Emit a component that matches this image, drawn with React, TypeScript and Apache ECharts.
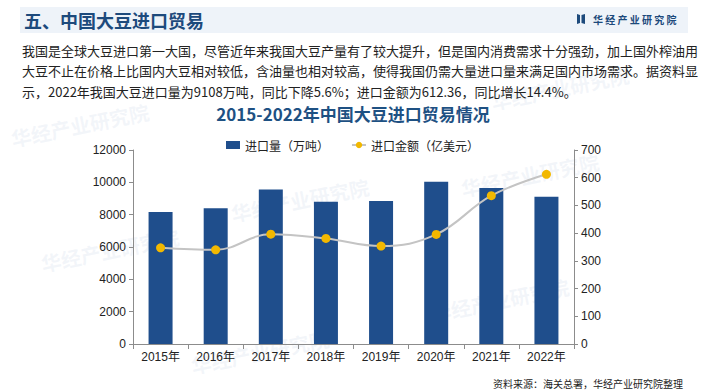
import React, { useEffect, useRef } from "react";
import * as echarts from "echarts";

const categories = ["2015年", "2016年", "2017年", "2018年", "2019年", "2020年", "2021年", "2022年"];
const importVolume = [8169, 8391, 9553, 8803, 8851, 10033, 9652, 9108];
const importValue = [347.2, 339.8, 396.1, 380.9, 353.4, 395.3, 535.3, 612.36];
const leftTicks = { min: 0, max: 12000, interval: 2000 };
const rightTicks = { min: 0, max: 700, interval: 100 };

const headerTitle = "五、中国大豆进口贸易";
const brand = "华经产业研究院";
const paragraph = [
  "我国是全球大豆进口第一大国，尽管近年来我国大豆产量有了较大提升，但是国内消费需求十分强劲，加上国外榨油用",
  "大豆不止在价格上比国内大豆相对较低，含油量也相对较高，使得我国仍需大量进口量来满足国内市场需求。据资料显",
  "示，2022年我国大豆进口量为9108万吨，同比下降5.6%；进口金额为612.36，同比增长14.4%。",
];
const chartTitle = "2015-2022年中国大豆进口贸易情况";
const seriesNames = ["进口量（万吨）", "进口金额（亿美元）"];
const source = "资料来源：海关总署，华经产业研究院整理";

const CJK = "'Noto Sans CJK SC', 'Noto Sans', sans-serif";
const NUM = "'Liberation Sans', 'Noto Sans CJK SC', sans-serif";

export default function App() {
  const ref = useRef<HTMLDivElement>(null);
  useEffect(() => {
    if (!ref.current) return;
    const chart = echarts.init(ref.current, null, { renderer: "svg" });
    const watermarks = [
      { x: 560, y: 88 },
      { x: 110, y: 250 },
      { x: 300, y: 200 },
      { x: 530, y: 175 },
      { x: 500, y: 300 },
      { x: 80, y: 125 },
      { x: 260, y: 352 },
    ].map((p) => ({
      type: "text",
      x: p.x,
      y: p.y,
      rotation: 0.2,
      silent: true,
      z: -1,
      style: {
        text: brand,
        fill: "rgba(200,212,230,0.22)",
        font: `bold 20px ${CJK}`,
        align: "center",
        verticalAlign: "middle",
      },
    }));
    const plain = (v: number) => String(v);
    const option: any = {
      animation: false,
      backgroundColor: "#ffffff",
      graphic: [
        ...watermarks,
        {
          type: "rect",
          shape: { x: 20, y: 7, width: 668, height: 26 },
          style: { fill: "#eef3f9" },
          z: 0,
        },
        {
          type: "text",
          x: 24,
          y: 20,
          style: {
            text: headerTitle,
            fill: "#1d4a7c",
            font: `bold 18px ${CJK}`,
            verticalAlign: "middle",
          },
        },
        {
          type: "polygon",
          shape: { points: [[577, 14], [580, 15], [580, 23], [577, 24]] },
          style: { fill: "#1d4a7c" },
        },
        {
          type: "polygon",
          shape: { points: [[581.5, 15], [585, 14], [585, 24], [581.5, 23]] },
          style: { fill: "#1d4a7c" },
        },
        {
          type: "text",
          x: 593,
          y: 19,
          style: {
            text: brand.split("").join(" "),
            fill: "#1d4a7c",
            font: `bold 10px ${CJK}`,
            verticalAlign: "middle",
          },
        },
        ...paragraph.map((line, i) => ({
          type: "text",
          x: 22,
          y: 50 + i * 20.5,
          style: {
            text: line,
            fill: "#222222",
            font: `13px ${CJK}`,
            verticalAlign: "middle",
          },
        })),
        {
          type: "text",
          x: 353,
          y: 113,
          style: {
            text: chartTitle,
            fill: "#1e5183",
            font: `bold 17px ${CJK}`,
            align: "center",
            verticalAlign: "middle",
          },
        },
        {
          type: "text",
          x: 683,
          y: 383,
          style: {
            text: source,
            fill: "#222222",
            font: `10px ${CJK}`,
            align: "right",
            verticalAlign: "middle",
          },
        },
      ],
      legend: {
        top: 134,
        left: "center",
        itemGap: 22,
        itemWidth: 14,
        itemHeight: 8,
        textStyle: { fontFamily: CJK, fontSize: 12, color: "#222" },
        data: [
          { name: seriesNames[0], icon: "rect" },
          { name: seriesNames[1] },
        ],
      },
      grid: { left: 133, right: 131, top: 150, bottom: 48, containLabel: false },
      xAxis: {
        type: "category",
        data: categories,
        axisLine: { lineStyle: { color: "#8c8c8c" } },
        axisTick: { show: true, alignWithLabel: false, lineStyle: { color: "#8c8c8c" } },
        axisLabel: { fontFamily: NUM, fontSize: 12, color: "#222", margin: 7 },
      },
      yAxis: [
        {
          type: "value",
          ...leftTicks,
          position: "left",
          axisLine: { show: true, lineStyle: { color: "#8c8c8c" } },
          axisTick: { show: true, length: 4, lineStyle: { color: "#8c8c8c" } },
          splitLine: { show: false },
          axisLabel: { fontFamily: NUM, fontSize: 12, color: "#222", margin: 7, formatter: plain },
        },
        {
          type: "value",
          ...rightTicks,
          position: "right",
          axisLine: { show: true, lineStyle: { color: "#8c8c8c" } },
          axisTick: { show: true, length: 4, lineStyle: { color: "#8c8c8c" } },
          splitLine: { show: false },
          axisLabel: { fontFamily: NUM, fontSize: 12, color: "#222", margin: 7, formatter: plain },
        },
      ],
      series: [
        {
          name: seriesNames[0],
          type: "bar",
          data: importVolume,
          barWidth: 24,
          itemStyle: { color: "#1f4e8c" },
          yAxisIndex: 0,
        },
        {
          name: seriesNames[1],
          type: "line",
          data: importValue,
          yAxisIndex: 1,
          smooth: 0.4,
          symbol: "circle",
          symbolSize: 9,
          lineStyle: { color: "#c4c4c4", width: 2 },
          itemStyle: { color: "#f2b800" },
        },
      ],
    };
    chart.setOption(option);
    return () => chart.dispose();
  }, []);
  return (
    <div
      ref={ref}
      style={{ position: "fixed", left: 0, top: 0, width: 705, height: 392 }}
    />
  );
}
